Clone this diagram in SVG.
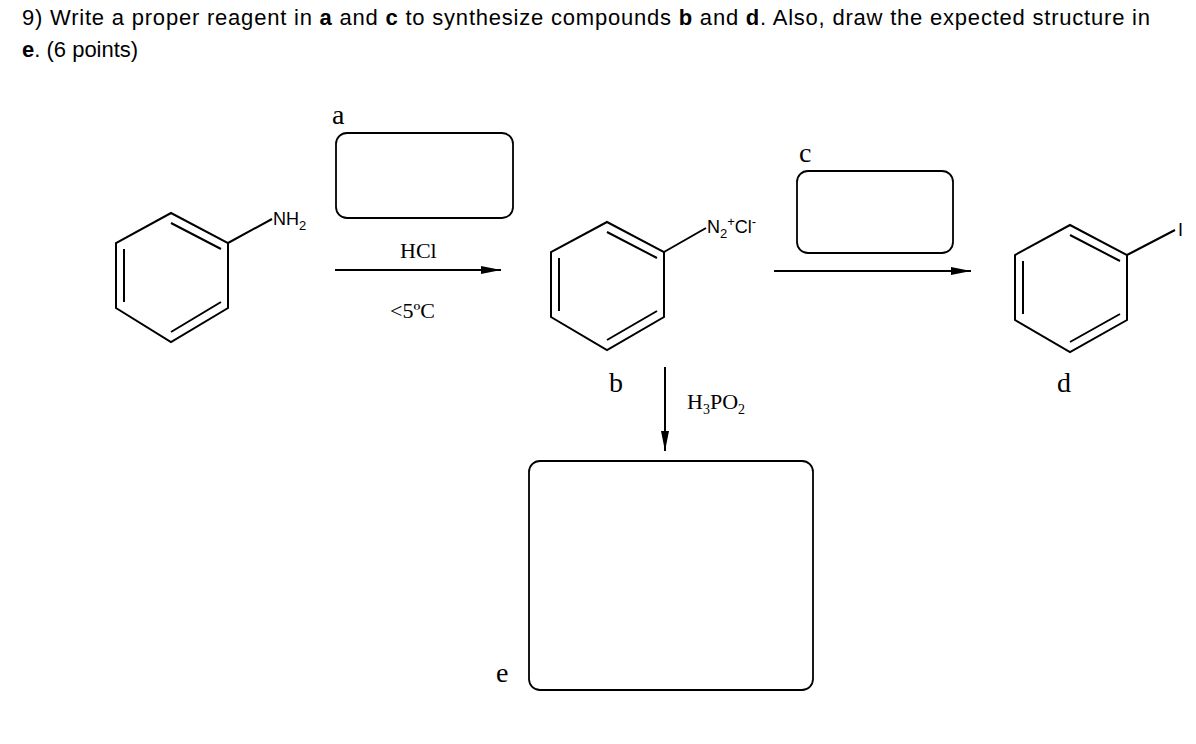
<svg xmlns="http://www.w3.org/2000/svg" width="1196" height="744" viewBox="0 0 1196 744">
<style>
.t{font-family:"Liberation Sans",Arial,sans-serif;font-size:22px;fill:#000}
.s{font-family:"Liberation Serif","Times New Roman",serif;font-size:22px;fill:#000}
.l{font-family:"Liberation Serif","Times New Roman",serif;font-size:28px;fill:#000}
.a{font-family:"Liberation Sans",Arial,sans-serif;font-size:18px;fill:#000}
.b{fill:none;stroke:#000;stroke-width:2}
.box{fill:#fff;stroke:#000;stroke-width:1.8}
</style>
<defs>
<marker id="ah2" viewBox="0 0 10 10" refX="10" refY="5" markerWidth="20" markerHeight="20" markerUnits="userSpaceOnUse" orient="auto"><path d="M0,3 L10,5 L0,7 z" fill="#000"/></marker>
</defs>
<rect width="1196" height="744" fill="#fff"/>
<text class="t" x="22" y="25" textLength="1128" lengthAdjust="spacing">9) Write a proper reagent in <tspan font-weight="bold">a</tspan> and <tspan font-weight="bold">c</tspan> to synthesize compounds <tspan font-weight="bold">b</tspan> and <tspan font-weight="bold">d</tspan>. Also, draw the expected structure in</text>
<text class="t" x="22" y="57"><tspan font-weight="bold">e</tspan>. (6 points)</text>

<g id="aniline">
<path class="b" d="M171,213 L228,243 L228,308 L171,342 L116,308 L116,243 Z M171,223 L221,249 M124,249 L124,302 M171,332 L221,302 M228,243 L272,219"/>
<text class="a" x="273" y="225">NH<tspan font-size="13" dy="5">2</tspan></text>
</g>
<g id="diazonium">
<path class="b" d="M607,222 L664,252 L664,317 L607,350 L551,317 L551,252 Z M607,232 L657,258 M559,258 L559,311 M607,340 L657,311 M664,252 L706,228"/>
<text class="a" x="707" y="233">N<tspan font-size="13" dy="5">2</tspan><tspan font-size="13" dy="-12">+</tspan><tspan dy="7">Cl</tspan><tspan font-size="13" dy="-7">-</tspan></text>
</g>
<g id="iodobenzene">
<path class="b" d="M1070,225 L1127,255 L1127,320 L1070,352 L1015,320 L1015,255 Z M1070,235 L1120,261 M1023,261 L1023,314 M1070,342 L1120,314 M1127,255 L1175,230"/>
<text class="a" x="1178" y="236">I</text>
</g>
<g id="box-a"><rect class="box" x="336" y="133" width="177" height="85" rx="11"/><text class="l" x="332" y="124">a</text></g>
<g id="box-c"><rect class="box" x="797" y="171" width="156" height="82" rx="11"/><text class="l" x="799" y="162" font-size="26">c</text></g>
<g id="box-e"><rect class="box" x="529" y="461" width="284" height="229" rx="11"/><text class="l" x="496" y="682">e</text></g>
<g id="connectors">
<line class="b" x1="335" y1="270" x2="501" y2="270" marker-end="url(#ah2)" stroke-width="1.5"/>
<line class="b" x1="774" y1="271" x2="971" y2="271" marker-end="url(#ah2)" stroke-width="1.5"/>
<line class="b" x1="665" y1="367" x2="665" y2="451" marker-end="url(#ah2)" stroke-width="1.5"/>
</g>
<text class="s" x="400" y="258">HCl</text>
<text class="s" x="390" y="318">&lt;5ºC</text>
<text class="l" x="609" y="392">b</text>
<text class="l" x="1057" y="392">d</text>
<text class="s" x="687" y="409">H<tspan font-size="14" dy="5">3</tspan><tspan dy="-5">PO</tspan><tspan font-size="14" dy="5">2</tspan></text>
</svg>
